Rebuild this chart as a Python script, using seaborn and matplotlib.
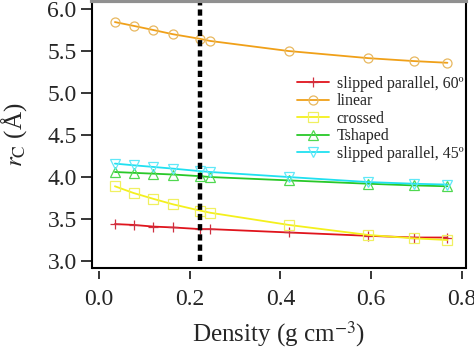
import matplotlib
matplotlib.use("Agg")
import matplotlib.pyplot as plt
import seaborn as sns
import pandas as pd

density = [0.035, 0.076, 0.12, 0.163, 0.223, 0.245, 0.418, 0.594, 0.695, 0.768]
slipped60 = [3.44, 3.43, 3.41, 3.40, 3.38, 3.38, 3.34, 3.30, 3.28, 3.28]
linear = [5.845, 5.80, 5.75, 5.70, 5.645, 5.62, 5.50, 5.415, 5.38, 5.36]
crossed = [3.89, 3.81, 3.74, 3.675, 3.60, 3.575, 3.43, 3.31, 3.27, 3.25]
tshaped = [4.06, 4.05, 4.04, 4.03, 4.01, 4.00, 3.96, 3.92, 3.90, 3.89]
slipped45 = [4.16, 4.14, 4.12, 4.10, 4.07, 4.06, 4.00, 3.94, 3.92, 3.91]
threshold = 0.2235

labels = ["slipped parallel, 60º", "linear", "crossed", "Tshaped", "slipped parallel, 45º"]
series = [slipped60, linear, crossed, tshaped, slipped45]
line_colors = ["#e0141c", "#f0a018", "#f4f01c", "#28c828", "#20e0f0"]
marker_colors = ["#d03040", "#e8b860", "#f0f060", "#50d850", "#60e8f8"]
markers = ["+", "o", "s", "^", "v"]

sns.set_style("ticks")
plt.rcParams["font.family"] = ["Liberation Serif", "DejaVu Serif"]
plt.rcParams["mathtext.fontset"] = "stix"

fig = plt.figure(figsize=(4.74, 3.51), dpi=100)
ax = fig.add_axes([92/474, 1 - 268/351, (466-92)/474, 268/351 - 0.003])

for lab, vals, lc, mc, mk in zip(labels, series, line_colors, marker_colors, markers):
    df = pd.DataFrame({"Density": density, "r": vals})
    sns.lineplot(data=df, x="Density", y="r", ax=ax, color=lc, lw=1.3,
                 marker=mk, markersize=6.5 if mk != "+" else 7.5,
                 markerfacecolor="none", markeredgecolor=mc, markeredgewidth=0.9,
                 label=lab)

ax.axvline(threshold, ymin=0.025, ymax=1, color="black", lw=3.2,
           linestyle=(0, (1.4, 0.9)))

ax.set_xlim(-0.0155, 0.809)
ax.set_ylim(2.917, 6.095)
ax.set_xticks([0.0, 0.2, 0.4, 0.6, 0.8])
ax.set_xticklabels(["0.0", "0.2", "0.4", "0.6", "0.8"])
ax.set_yticks([3.0, 3.5, 4.0, 4.5, 5.0, 5.5, 6.0])
ax.set_yticklabels(["3.0", "3.5", "4.0", "4.5", "5.0", "5.5", "6.0"])

for s in ["left", "right", "bottom"]:
    ax.spines[s].set_color("black")
    ax.spines[s].set_linewidth(1.5)
ax.spines["top"].set_color("#909090")
ax.spines["top"].set_linewidth(3)
ax.spines["bottom"].set_position(("outward", 2))
ax.spines["bottom"].set_visible(False)
ax.plot([0, 1], [0, 0], transform=ax.transAxes, color="black", lw=1.5, clip_on=False)

ax.tick_params(axis="y", direction="out", length=8, width=1.3, labelsize=17, pad=3)
ax.tick_params(axis="x", direction="out", length=6, width=1.3, labelsize=17, pad=7)

ax.set_xlabel("Density (g cm$^{-3}$)", fontsize=18, labelpad=7)
ax.set_ylabel(r"$r_{\mathrm{C}}$ (Å)", fontsize=18, labelpad=13)

leg = ax.legend(loc="upper right", bbox_to_anchor=(1.01, 0.745), frameon=False,
                fontsize=11.5, handlelength=2.0, handletextpad=0.5,
                labelspacing=0.1, borderaxespad=0.0)

fig.savefig("out.png", dpi=100)
